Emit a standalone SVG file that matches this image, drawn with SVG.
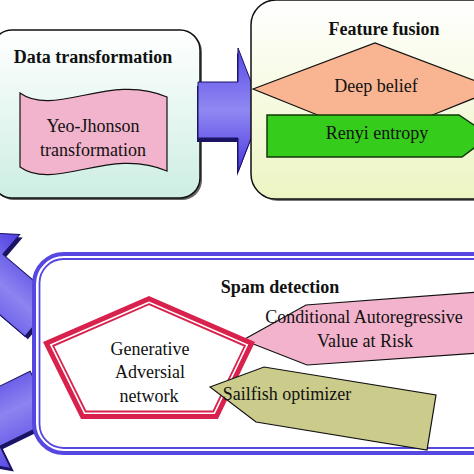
<svg xmlns="http://www.w3.org/2000/svg" width="474" height="474" viewBox="0 0 474 474">
<defs>
<linearGradient id="gData" x1="0" y1="0" x2="0" y2="1"><stop offset="0" stop-color="#ffffff"/><stop offset="1" stop-color="#cdeee2"/></linearGradient>
<linearGradient id="gFeat" x1="0" y1="0" x2="0" y2="1"><stop offset="0" stop-color="#ffffff"/><stop offset="1" stop-color="#ecf5c2"/></linearGradient>
<linearGradient id="gArrow" x1="0" y1="0" x2="0" y2="1"><stop offset="0" stop-color="#5a4ae6"/><stop offset="0.5" stop-color="#9088f2"/><stop offset="1" stop-color="#4b38e0"/></linearGradient>
<linearGradient id="gArrowL" x1="0" y1="0" x2="0" y2="1"><stop offset="0" stop-color="#4f3fe2"/><stop offset="0.5" stop-color="#8c84f0"/><stop offset="1" stop-color="#5a4ae6"/></linearGradient>
<style>
.t{font-family:"Liberation Serif","Times New Roman",serif;font-size:18px;fill:#111;text-anchor:middle}
.b{font-weight:bold}
.ln{stroke:#111;stroke-width:1.2}
.sh{fill:#1b1464}
</style>
</defs>
<rect width="474" height="474" fill="#ffffff"/>

<g id="data-transformation">
<rect x="-6" y="32" width="208" height="168" rx="20" fill="#666"/>
<rect x="-8" y="30" width="208" height="168" rx="20" fill="url(#gData)" stroke="#111" stroke-width="1.5"/>
<text class="t b" x="93" y="63">Data transformation</text>
</g>
<g id="yeo-jhonson">
<path d="M20,93 C55,118 110,72 167,97 L167,171 C110,146 55,192 20,167 Z" fill="#f2b4cc" class="ln"/>
<text class="t" x="93" y="132">Yeo-Jhonson</text>
<text class="t" x="93" y="156">transformation</text>
</g>

<g id="connectors">
<path transform="translate(-1,4)" class="sh" d="M198,82 H238 V48 L262,110 L238,172 V138 H198 Z"/>
<path d="M198,82 H238 V48 L262,110 L238,172 V138 H198 Z" fill="url(#gArrow)" stroke="#1b1464" stroke-width="1"/>
<g transform="translate(40.5,318) rotate(40.5)">
<g transform="rotate(-40.5) translate(3,3) rotate(40.5)"><path class="sh" d="M0,-24 H-70 V-50 L-135,0 L-70,50 V24 H0 Z"/></g>
<path d="M0,-24 H-70 V-50 L-135,0 L-70,50 V24 H0 Z" fill="url(#gArrowL)" stroke="#1b1464" stroke-width="1"/>
</g>
<g transform="translate(42,395.5) rotate(-26)">
<g transform="rotate(26) translate(3,3) rotate(-26)"><path class="sh" d="M0,-27 H-60 V-52 L-130,0 L-60,52 V27 H0 Z"/></g>
<path d="M0,-27 H-60 V-52 L-130,0 L-60,52 V27 H0 Z" fill="url(#gArrowL)" stroke="#1b1464" stroke-width="1"/>
</g>
</g>

<g id="feature-fusion">
<rect x="253" y="2" width="250" height="199" rx="25" fill="#777"/>
<rect x="251" y="0" width="250" height="199" rx="25" fill="url(#gFeat)" stroke="#111" stroke-width="1.5"/>
<text class="t b" x="384" y="35">Feature fusion</text>
</g>
<g id="deep-belief">
<polygon points="253,89 375,43 497,89 430,116 320,116" fill="#f9b491" class="ln"/>
<text class="t" x="376" y="92">Deep belief</text>
</g>
<g id="renyi-entropy">
<polygon points="267,115 459,115 490,136 462,157 267,157" fill="#36cc1c" stroke="#123a08" stroke-width="1.5"/>
<text class="t" x="377" y="139">Renyi entropy</text>
</g>

<g id="spam-detection">
<rect x="34" y="254" width="480" height="199" rx="30" fill="#ffffff" stroke="#5647e0" stroke-width="4"/>
<rect x="39.5" y="259" width="470" height="189" rx="24" fill="none" stroke="#5647e0" stroke-width="1.8"/>
<text class="t b" x="280" y="293">Spam detection</text>
</g>

<g id="cavar">
<polygon points="243,340 306,305 480,292 480,353 307,365" fill="#f4b3cd" class="ln"/>
<text class="t" x="364" y="323">Conditional Autoregressive</text>
<text class="t" x="365" y="347">Value at Risk</text>
</g>

<g id="gan">
<polygon points="149,298.7 251.6,343.3 216.4,416.5 82.6,416.5 46.4,343.3" fill="#ffffff" stroke="#d8214c" stroke-width="5" stroke-linejoin="miter"/>
<polygon points="149,304.2 244.9,345.8 213.3,411.5 85.7,411.5 53.2,345.8" fill="none" stroke="#d8214c" stroke-width="1.8"/>
<text class="t" x="150" y="355">Generative</text>
<text class="t" x="150" y="378">Adversial</text>
<text class="t" x="149" y="402">network</text>
</g>

<g id="sailfish">
<polygon points="210,387 264,367 436,395 427,450 256,422" fill="#cbcb8c" class="ln"/>
<text class="t" x="287" y="400">Sailfish optimizer</text>
</g>
</svg>
